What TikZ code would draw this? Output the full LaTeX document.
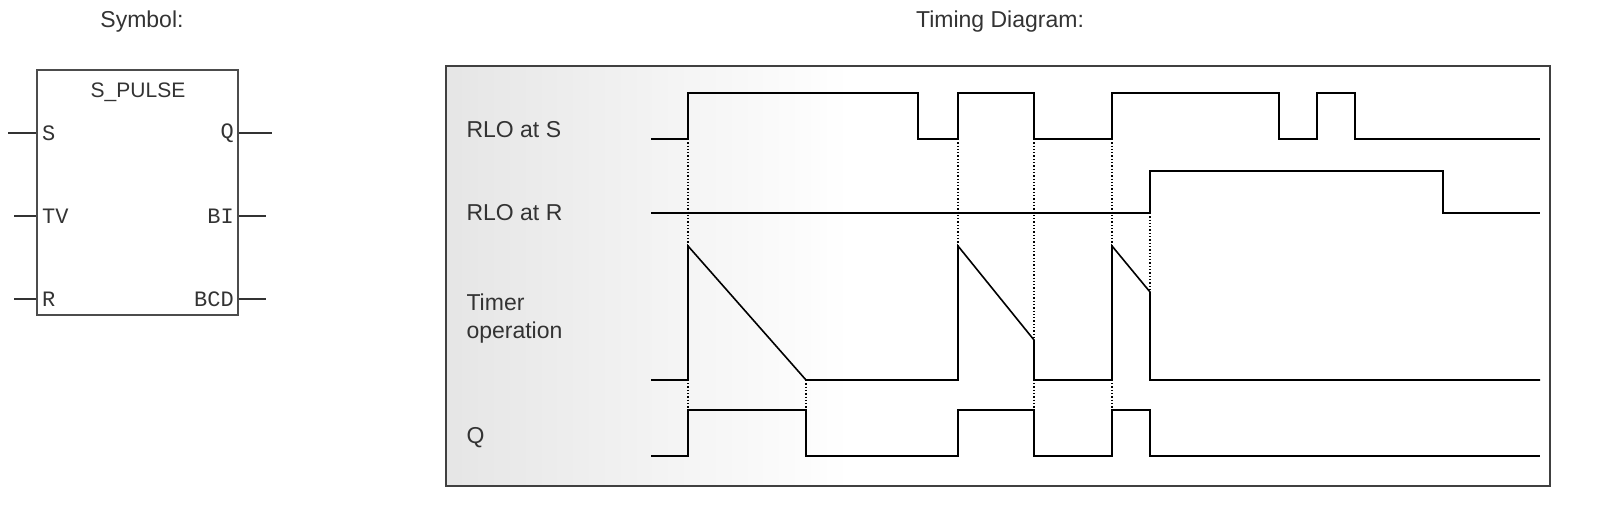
\documentclass[tikz,border=0pt]{standalone}
\usepackage{fontspec}
\setmainfont{Liberation Sans}
\newfontfamily\monof{Liberation Mono}
\begin{document}
\begin{tikzpicture}[x=1pt,y=-1pt,
  sig/.style={line width=1.6pt,black},
  dots/.style={dotted,line width=1.3pt},
  lbl/.style={font=\fontsize{23}{28}\selectfont,text=black!80,anchor=west,align=left},
  pin/.style={font=\monof\fontsize{22}{24}\selectfont,inner sep=0pt,text=black!80},
  wire/.style={line width=1.6pt,black!80}]
\useasboundingbox (0,0) rectangle (1600,510);
\node[font=\fontsize{23}{26}\selectfont,text=black!80] (t1) at (142,22) {Symbol:};
\node[font=\fontsize{23}{26}\selectfont,text=black!80] (t2) at (1000,22) {Timing Diagram:};
\node[draw=black!70,line width=2pt,minimum width=201pt,minimum height=245pt,inner sep=0pt] (blk) at (137.5,192.5) {};
\node[font=\fontsize{21}{24}\selectfont,text=black!80] (nm) at (138,92) {S\_PULSE};
\node[pin,anchor=west] (pS) at (42,133) {S};
\node[pin,anchor=west] (pTV) at (42,216) {TV};
\node[pin,anchor=west] (pR) at (42,299) {R};
\node[pin,anchor=east] (pQ) at (234,133) {Q};
\node[pin,anchor=east] (pBI) at (234,216) {BI};
\node[pin,anchor=east] (pBCD) at (234,299) {BCD};
\coordinate (a1) at (8,133); \coordinate (a2) at (14,216); \coordinate (a3) at (14,299);
\coordinate (b1) at (272,133); \coordinate (b2) at (266,216); \coordinate (b3) at (266,299);
\draw[wire] (a1) -- (blk.west |- a1);
\draw[wire] (a2) -- (blk.west |- a2);
\draw[wire] (a3) -- (blk.west |- a3);
\draw[wire] (blk.east |- b1) -- (b1);
\draw[wire] (blk.east |- b2) -- (b2);
\draw[wire] (blk.east |- b3) -- (b3);
\fill[white] (446,66) rectangle (1550,486);
\shade[left color=black!10,right color=white] (446,66) rectangle (850,486);
\node[draw=black!75,line width=1.8pt,minimum width=1104pt,minimum height=420pt,inner sep=0pt] (frame) at (998,276) {};
\node[lbl] (l1) at (463,130) {RLO at S};
\node[lbl] (l2) at (463,213) {RLO at R};
\node[lbl] (l3) at (463,319) {Timer\\operation};
\node[lbl] (l4) at (463,438) {Q};
\draw[dots] (688,139) -- (688,410);
\draw[dots] (806,380) -- (806,410);
\draw[dots] (958,139) -- (958,246);
\draw[dots] (1034,139) -- (1034,456);
\draw[dots] (1112,139) -- (1112,410);
\draw[dots] (1150,213) -- (1150,292);
\draw[sig] (651,139) -- (688,139) -- (688,93) -- (918,93) -- (918,139) -- (958,139) -- (958,93) -- (1034,93) -- (1034,139) -- (1112,139) -- (1112,93) -- (1279,93) -- (1279,139) -- (1317,139) -- (1317,93) -- (1355,93) -- (1355,139) -- (1540,139);
\draw[sig] (651,213) -- (1150,213) -- (1150,171) -- (1443,171) -- (1443,213) -- (1540,213);
\draw[sig] (651,380) -- (688,380) -- (688,246) -- (806,380) -- (958,380) -- (958,246) -- (1034,340) -- (1034,380) -- (1112,380) -- (1112,246) -- (1150,292) -- (1150,380) -- (1540,380);
\draw[sig] (651,456) -- (688,456) -- (688,410) -- (806,410) -- (806,456) -- (958,456) -- (958,410) -- (1034,410) -- (1034,456) -- (1112,456) -- (1112,410) -- (1150,410) -- (1150,456) -- (1540,456);
\end{tikzpicture}
\end{document}
